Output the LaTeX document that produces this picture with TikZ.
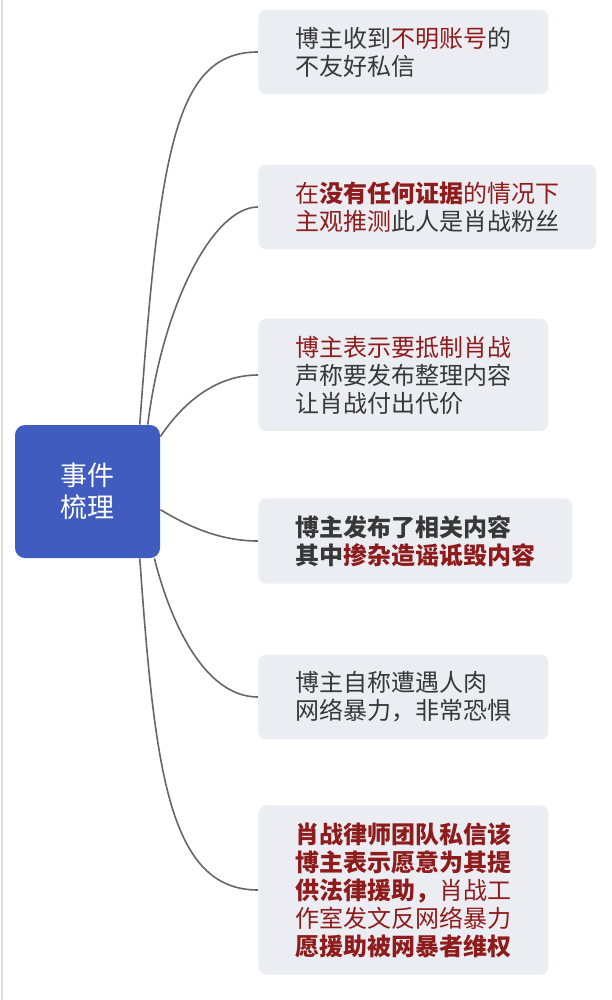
\documentclass[tikz,border=0pt]{standalone}
\usepackage{fontspec}
\setmainfont{Noto Sans CJK SC}
\usepackage{tikz}
\usetikzlibrary{backgrounds}
\definecolor{hubblue}{HTML}{3F5CBE}
\definecolor{boxgray}{HTML}{ECEDF2}
\definecolor{txtgray}{HTML}{383838}
\definecolor{warnred}{HTML}{8E1C1C}
\definecolor{linegray}{HTML}{666666}

\begin{document}
\begin{tikzpicture}[x=0.5pt,y=-0.5pt,
        hub/.style={fill=hubblue,rounded corners=5pt,minimum width=72.5pt,minimum height=66.5pt,
            text=white,align=center,font=\fontsize{13.5}{16}\selectfont},
        item/.style={fill=boxgray,rounded corners=4pt,anchor=west,align=left,inner xsep=18.5pt,
            inner ysep=8.5pt,text=txtgray,font=\fontsize{12}{14}\selectfont},
        link/.style={draw=linegray,line width=0.8pt}]
        \useasboundingbox (0,0) rectangle (611,1000);
        \draw[gray!25,line width=1pt] (1.5,0) -- (1.5,1000);
        \node[hub] (hub) at (87.5,491.5) {事件\\梳理};
        \node[item] (e1) at (258,52) {博主收到\textcolor{warnred}{不明账号}的\\不友好私信};
        \node[item] (e2) at (258,207) {\textcolor{warnred}{在\textbf{没有任何证据}的情况下}\\\textcolor{warnred}{主观推测}此人是肖战粉丝};
        \node[item] (e3) at (258,375) {\textcolor{warnred}{博主表示要抵制肖战}\\声称要发布整理内容\\让肖战付出代价};
        \node[item,font=\fontsize{12}{14}\selectfont\bfseries] (e4) at (258,541) {博主发布了相关内容\\其中\textcolor{warnred}{掺杂造谣诋毁内容}};
        \node[item] (e5) at (258,697) {博主自称遭遇人肉\\网络暴力，非常恐惧};
        \node[item,text=warnred] (e6) at (258,890) {\textbf{肖战律师团队私信该}\\\textbf{博主表示愿意为其提}\\\textbf{供法律援助，}肖战工\\作室发文反网络暴力\\\textbf{愿援助被网暴者维权}};
        \begin{scope}[on background layer]
            \draw[link] (hub.52) .. controls +(20,-275) and +(-83,0) .. (e1.west);
            \draw[link] (hub.48) .. controls +(15,-120) and +(-45,0) .. (e2.west);
            \draw[link] (hub.37) .. controls +(20,-30) and +(-45,0) .. (e3.west);
            \draw[link] (hub.-14) .. controls +(25,15) and +(-40,0) .. (e4.west);
            \draw[link] (hub.-45) .. controls +(15,60) and +(-55,0) .. (e5.west);
            \draw[link] (hub.-52) .. controls +(15,210) and +(-90,0) .. (e6.west);
        \end{scope}
    \end{tikzpicture}
\end{document}
